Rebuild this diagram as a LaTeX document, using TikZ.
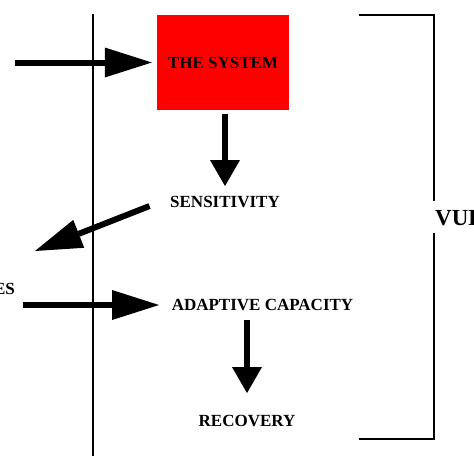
\documentclass[tikz,border=0pt]{standalone}
\usepackage{fontspec}
\setmainfont{Liberation Serif}
\usepackage{tikz}
\usetikzlibrary{positioning, arrows.meta, calc}
\tikzstyle{longarrow} = [line width=6pt,-{Triangle[length=47pt,width=30pt,line width=0pt]}]
\tikzstyle{shortarrow} = [line width=6pt,-{Triangle[length=26pt,width=30pt,line width=0pt]}]
\tikzstyle{stage} = [inner sep=0pt, font=\fontsize{17}{20}\selectfont\bfseries]
\tikzstyle{system} = [rectangle, minimum width=132pt, minimum height=95pt, text centered, fill=red, stage]
\tikzstyle{frame} = [line width=1.3pt]

\begin{document}
\begin{tikzpicture}[x=1pt, y=-1pt]
        \useasboundingbox (0,0) rectangle (474,474);
        \clip (0,0) rectangle (474,474);

        \node (sys) [system] at (223,62.5) {THE SYSTEM};
        \node (sens) [stage, node distance=139.5pt, below of=sys, xshift=2pt] {SENSITIVITY};
        \node (adapt) [stage, node distance=103pt, below of=sens, xshift=37.5pt] {ADAPTIVE CAPACITY};
        \node (rec) [stage, node distance=116pt, below of=adapt, xshift=-15.5pt] {RECOVERY};
        \node (es) [stage, anchor=east] at (15,289) {ES};
        \node (vul) [stage, anchor=west, font=\fontsize{23}{26}\selectfont\bfseries] at (435,218) {VUL};

        \coordinate (in1) at (15,62.5);
        \coordinate (in2) at (23,305);
        \coordinate (out) at (35,251);

        % divider and bracket
        \draw [frame] (93,14) -- (93,456);
        \draw [frame] (359,15) -- (434,15) -- (434,201);
        \draw [frame] (434,233) -- (434,439) -- (359,439);

        \draw [longarrow, shorten >=5pt] (in1) -- (sys.west);
        \draw [shortarrow, shorten <=4pt, shorten >=10pt] (sys.south -| sens.north) -- (sens.north);
        \draw [longarrow, shorten <=22pt] ([yshift=4pt]sens.west) -- (out);
        \draw [longarrow, shorten >=12.5pt] (in2) -- (adapt.west);
        \draw [shortarrow, shorten <=9.5pt, shorten >=22pt] (adapt.south -| rec.north) -- (rec.north);

\end{tikzpicture}
\end{document}
